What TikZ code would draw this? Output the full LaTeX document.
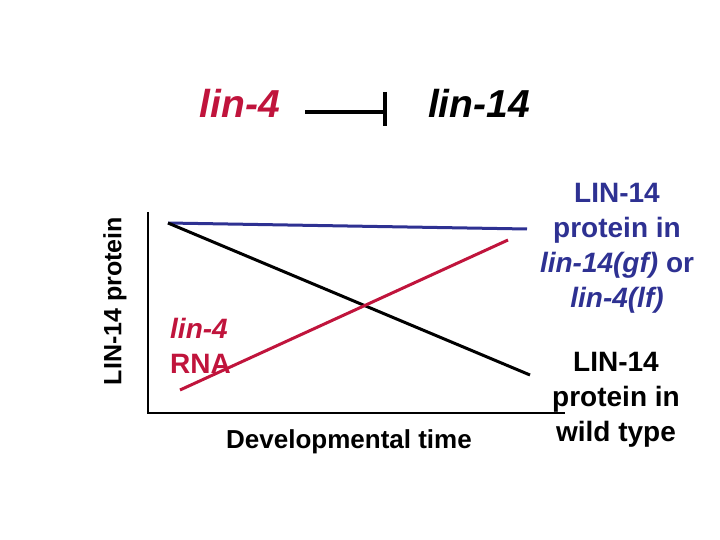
\documentclass[tikz,border=0pt]{standalone}
\usepackage{fontspec}
\setmainfont{Liberation Sans}
\definecolor{myred}{HTML}{C0143C}
\definecolor{myblue}{HTML}{2E3192}
\begin{document}
\begin{tikzpicture}[x=1pt,y=-1pt,
  lbl/.style={font=\fontsize{28}{35}\selectfont\bfseries, inner sep=0pt, align=center},
  ttl/.style={font=\fontsize{39}{44}\selectfont\bfseries\itshape, inner sep=0pt, text=myred},
  plotline/.style={line width=3pt}]
\useasboundingbox (0,0) rectangle (720,540);
\node[ttl] (l4) at (240,103) {lin-4};
\node[ttl,text=black] (l14) at (479,103) {lin-14};
\coordinate (ia) at (305,112);
\coordinate (ib) at (385,112);
\draw[line width=4pt] (ia) -- (ib);
\draw[line width=4pt] (385,92) -- (385,126);
\coordinate (o) at (148,413);
\coordinate (yt) at (148,212);
\coordinate (xe) at (565,413);
\draw[line width=1.5pt] (yt) -- (o) -- (xe);
\node[lbl, rotate=90, font=\fontsize{25}{30}\selectfont\bfseries] (yl) at (115,301) {LIN-14 protein};
\coordinate (s) at (168,223);
\coordinate (be) at (527,229);
\coordinate (ke) at (530,375);
\coordinate (rs) at (180,390);
\coordinate (re) at (508,240);
\draw[plotline, myblue] (s) -- (be);
\draw[plotline, black] (s) -- (ke);
\draw[plotline, myred] (rs) -- (re);
\node[lbl, text=myred, align=left, anchor=west] (rna) at (170,346) {\itshape lin-4\\RNA};
\node[lbl, font=\fontsize{26}{30}\selectfont\bfseries] (dt) at (349,442) {Developmental time};
\node[lbl, text=myblue] (bt) at (617,248) {LIN-14\\protein in\\\itshape lin-14(gf) \upshape or\\\itshape lin-4(lf)};
\node[lbl] (kt) at (616,400) {LIN-14\\protein in\\wild type};
\end{tikzpicture}
\end{document}
